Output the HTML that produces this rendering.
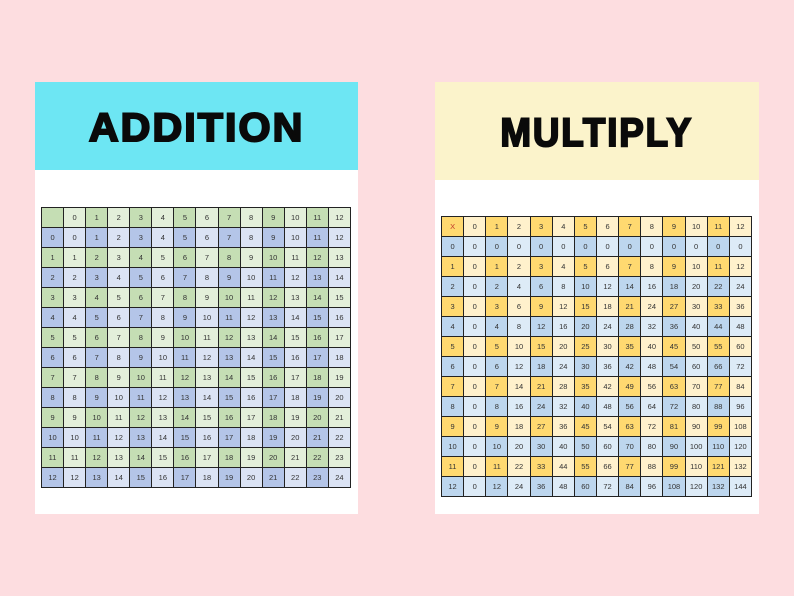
<!DOCTYPE html>
<html><head><meta charset="utf-8"><style>
body{margin:0;width:794px;height:596px;background:#fddde0;position:relative;overflow:hidden;font-family:"Liberation Sans",sans-serif}
.card{position:absolute;background:#fff;top:82px;width:323px;height:432px}
.hdr{position:absolute;left:0;top:0;width:100%;display:flex;align-items:center;justify-content:center;box-sizing:border-box;padding-top:5px}
.hdr span{font-weight:900;font-size:40px;color:#0a0a0a;-webkit-text-stroke:2px #0a0a0a;letter-spacing:2px;display:inline-block}
table{position:absolute;border-collapse:collapse;table-layout:fixed}
td{border:1px solid #222;padding:0;text-align:center;font-size:7.5px;color:#333;width:21px;height:19px;line-height:19px}
</style></head><body>
<div class="card" style="left:35px"><div class="hdr" style="height:88px;background:#6de6f3"><span style="transform:scaleX(1.03)">ADDITION</span></div></div>
<div class="card" style="left:435px;width:324px"><div class="hdr" style="height:98px;background:#fbf3cb"><span style="transform:scaleX(0.92)">MULTIPLY</span></div></div>
<table id="a" style="left:41px;top:207px;width:310px;height:279px"></table>
<table id="m" style="left:441px;top:216px;width:311px;height:279px"></table>
<script>
function build(id,op,c1d,c1l,c2d,c2l,corner){
 var t=document.getElementById(id),h='';
 for(var r=0;r<14;r++){h+='<tr>';
  for(var c=0;c<14;c++){
   var dark=c%2==0, g=r%2==0;
   var bg=g?(dark?c1d:c1l):(dark?c2d:c2l);
   var txt;
   if(r==0&&c==0)txt=corner;else if(r==0)txt=c-1;else if(c==0)txt=r-1;else txt=op(r-1,c-1);
   var col=(r==0&&c==0)?'#c0392b':'#333';
   h+='<td style="background:'+bg+';color:'+col+'">'+txt+'</td>';
  }h+='</tr>';}
 t.innerHTML=h;
}
build('a',function(a,b){return a+b},'#c5deb4','#e3efda','#b4c5e8','#dbe3f4','');
build('m',function(a,b){return a*b},'#ffd970','#fff1cc','#bdd6ee','#ddebf7','X');
</script>
</body></html>
